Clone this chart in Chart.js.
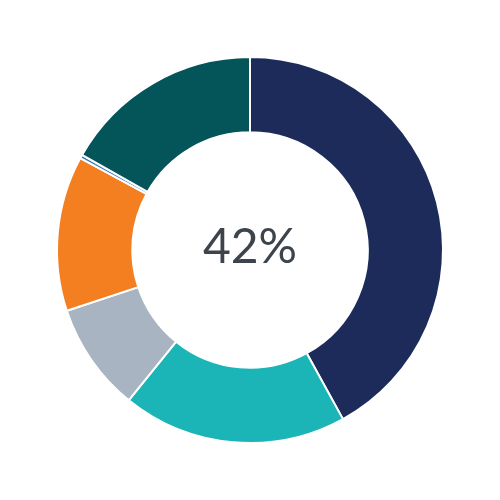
<!DOCTYPE html>
<html>
<head>
<meta charset="utf-8">
<script src="https://cdn.jsdelivr.net/npm/chart.js@4"></script>
<style>
  html, body { margin: 0; padding: 0; background: #fff; }
  #wrap { width: 500px; height: 500px; position: relative; }
</style>
</head>
<body>
<div id="wrap"><canvas id="chart"></canvas></div>
<script>
const labels = ["A", "B", "C", "D", "E", "F"];
const values = [42, 18.8, 9.1, 13, 0.3, 16.8];
const colours = ["#1c2b5a", "#1bb5b7", "#a9b4c2", "#f47f20", "#3b7dc0", "#03555a"];
const centreText = "42%";

const centreLabel = {
  id: "centreLabel",
  afterDraw(chart) {
    const meta = chart.getDatasetMeta(0);
    const arc = meta.data[0];
    if (!arc) return;
    const ctx = chart.ctx;
    ctx.save();
    ctx.font = "400 48px Lato, 'Open Sans', sans-serif";
    ctx.fillStyle = "#3d444c";
    ctx.textAlign = "center";
    ctx.textBaseline = "middle";
    ctx.fillText(centreText, arc.x, arc.y - 2);
    ctx.restore();
  },
};

new Chart(document.getElementById("chart").getContext("2d"), {
  type: "doughnut",
  data: {
    labels: labels,
    datasets: [{
      data: values,
      backgroundColor: colours,
      borderColor: "#fff",
      borderWidth: 2,
    }],
  },
  options: {
    responsive: true,
    maintainAspectRatio: false,
    animation: false,
    cutout: "61%",
    layout: { padding: 56 },
    plugins: {
      legend: { display: false },
      tooltip: { enabled: false },
    },
  },
  plugins: [centreLabel],
});
</script>
</body>
</html>
